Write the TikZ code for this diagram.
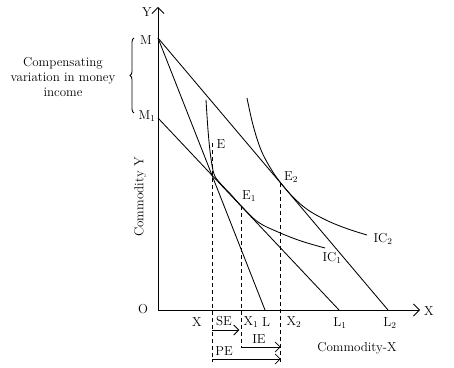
\documentclass[tikz,border=0pt]{standalone}
\usepackage{tikz}
\usetikzlibrary{arrows.meta, positioning, calc, decorations.pathreplacing}

\begin{document}
\begin{tikzpicture}[x=1pt, y=1pt, font=\fontsize{13}{15}\selectfont, line width=0.85pt,
    guide/.style={line width=0.75pt, dash pattern=on 4pt off 3pt},
    effect/.style={-{Straight Barb[length=5pt]}, line width=0.75pt}]
    \useasboundingbox (-158,-57) rectangle (296,310);

    % --- 坐标轴 ---
    \coordinate (O) at (0,0);
    \coordinate (ytop) at (0,303);
    \coordinate (xend) at (262,0);
    \draw[-{Straight Barb[length=6pt]}] (O) -- (ytop);
    \draw[-{Straight Barb[length=6pt]}] (O) -- (xend);
    \node (ylab) at (-11,298) {Y};
    \node (xlab) at (271,-1) {X};
    \node (olab) at (-15,1) {O};
    \node[rotate=90] (comy) at (-18,113) {Commodity Y};
    \node (comx) at (199,-38) {Commodity-X};

    % --- 预算线 ---
    \coordinate (M) at (0,272);
    \coordinate (M1) at (0,192);
    \coordinate (L) at (107,0);
    \coordinate (L1) at (181,0);
    \coordinate (L2) at (230,0);
    \draw (M) -- (L);
    \draw (M) -- (L2);
    \draw (M1) -- (L1);
    \node (mlab) at (-12,270) {M};
    \node (m1lab) at (-11,194) {M$_1$};

    % 均衡点
    \coordinate (E) at (intersection of M--L and M1--L1);
    \coordinate (E1) at ($(M1)!0.46!(L1)$);
    \coordinate (E2) at ($(M)!0.533!(L2)$);

    % --- 无差异曲线 ---
    \draw plot[smooth, tension=0.6] coordinates {(48,210) (50,180) (52.5,155) (56,136) (62,127) (72,116.5) (83.3,104) (100,88) (120,78) (143,69) (167,62)};
    \draw plot[smooth, tension=0.6] coordinates {(89,212) (95,185) (103,160) (113,141) (122.6,127.3) (135,113) (150,100) (170,89) (190,81) (209,75)};
    \node (ic1) at (174,52) {IC$_1$};
    \node (ic2) at (225,71) {IC$_2$};
    \node (elab) at (63,166) {E};
    \node (e1lab) at (91,114) {E$_1$};
    \node (e2lab) at (133,133) {E$_2$};

    % --- 虚线 ---
    \coordinate (Etop) at ($(E)+(0,32)$);
    \coordinate (Ebot) at ($(E|-O)+(0,-52)$);
    \coordinate (E1bot) at ($(E1|-O)+(0,-38)$);
    \coordinate (E2bot) at ($(E2|-O)+(0,-52)$);
    \draw[guide] (Etop) -- (Ebot);
    \draw[guide] (E1) -- (E1bot);
    \draw[guide] (E2) -- (E2bot);

    % 横轴标注
    \node (xl) at (39,-12) {X};
    \node (x1l) at (93,-12) {X$_1$};
    \node (ll) at (108,-12) {L};
    \node (x2l) at (136,-12) {X$_2$};
    \node (l1l) at (182,-13) {L$_1$};
    \node (l2l) at (232,-13) {L$_2$};

    % --- 效应箭头 ---
    \coordinate (se1) at ($(E|-O)+(0,-20)$);
    \coordinate (se2) at ($(E1|-O)+(-2,-20)$);
    \coordinate (ie1) at ($(E1|-O)+(0,-37)$);
    \coordinate (ie2) at ($(E2|-O)+(0,-37)$);
    \coordinate (pe1) at ($(E|-O)+(0,-49)$);
    \coordinate (pe2) at ($(E2|-O)+(0,-49)$);
    \draw[effect] (se1) -- (se2);
    \draw[effect] (ie1) -- (ie2);
    \draw[effect] (pe1) -- (pe2);
    \node (selab) at (66,-11) {SE};
    \node (ielab) at (101,-29) {IE};
    \node (pelab) at (66,-41) {PE};

    % --- 补偿变化 ---
    \draw[decorate, decoration={brace, amplitude=4pt}] (-24,197) -- (-24,272);
    \node[align=center] (cvtext) at (-95,233) {Compensating\\variation in money\\income};
\end{tikzpicture}
\end{document}
